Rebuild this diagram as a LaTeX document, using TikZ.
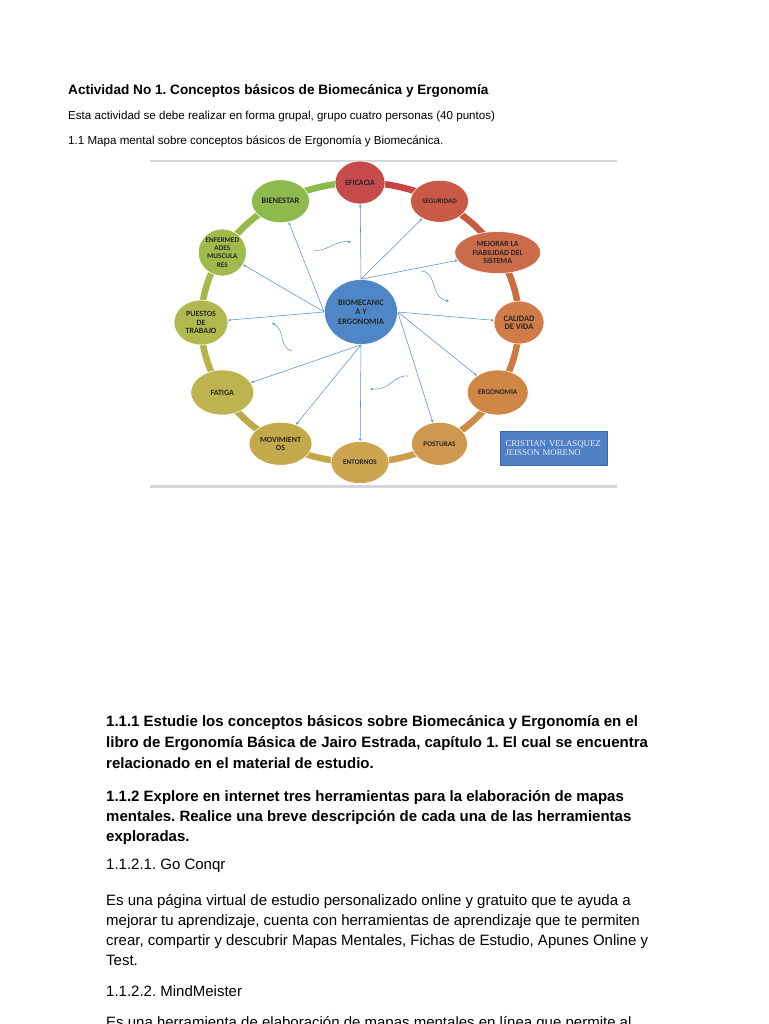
\documentclass[tikz,border=0pt]{standalone}
\usepackage{fontspec}
\setmainfont{Liberation Sans}
\newfontfamily\labelfont{Carlito}
\newfontfamily\namefont{Liberation Serif}
\usetikzlibrary{arrows.meta,shapes.geometric}
\frenchspacing

% colours of the map
\definecolor{linkblue}{HTML}{5B8FD0}
\definecolor{coreblue}{HTML}{4E86C6}
\definecolor{boxblue}{HTML}{4F80C4}
\definecolor{boxedge}{HTML}{3C68A9}
\definecolor{framegray}{HTML}{D6D6DA}

\begin{document}
\begin{tikzpicture}[x=1pt,y=-1pt,
    concept/.style={ellipse, draw=white, line width=0.6pt, inner sep=0pt, align=center,
        text=black!85, font=\labelfont\bfseries},
    core/.style={concept, fill=coreblue, minimum width=73, minimum height=65,
        font=\labelfont\bfseries\fontsize{8.4}{9.6}\selectfont},
    ring/.style={line width=6.5pt},
    link/.style={draw=linkblue, line width=0.55pt, -{Stealth[length=3pt,width=2.6pt]}},
    squiggle/.style={link, line width=0.5pt},
    namebox/.style={rectangle, fill=boxblue, draw=boxedge, line width=0.8pt,
        minimum width=107, minimum height=34, text width=96, align=left, text=white!92!blue,
        font=\namefont\fontsize{8.8}{9.6}\selectfont},
    heading/.style={anchor=base west, inner sep=0pt, font=\bfseries\fontsize{13.6}{16}\selectfont},
    body/.style={anchor=base west, inner sep=0pt, font=\fontsize{11.6}{13}\selectfont},
    task/.style={anchor=base west, inner sep=0pt, font=\bfseries\fontsize{15}{17}\selectfont},
    plain/.style={anchor=base west, inner sep=0pt, font=\fontsize{15}{17}\selectfont}
]
\useasboundingbox[fill=white] (0,0) rectangle (768,1024);

% Heading of the page
\node[heading] (title) at (68,95) {Actividad No 1. Conceptos básicos de Biomecánica y Ergonomía};
\node[body] (intro) at (68,120) {Esta actividad se debe realizar en forma grupal, grupo cuatro personas (40 puntos)};
\node[body] (item) at (68,145) {1.1 Mapa mental sobre conceptos básicos de Ergonomía y Biomecánica.};

% Frame of the picture
\draw[framegray, line width=1.2pt] (150,161) -- (617,161);
\draw[framegray, line width=2.4pt] (150,486.5) -- (617,486.5);

% Ring round the map
\foreach \a/\col in {-90/C9443F, -60/CA5A3E, -30/CC6A40, 0/CE7B42, 30/CF8B45, 60/CE9D4A,
                     90/C6A547, 120/BBAA45, 150/B6B448, 180/A8B848, 210/97B94A, 240/8CB94C} {
    \definecolor{segcol}{HTML}{\col}
    \draw[ring, segcol] ({360+159*cos(\a)},{322.5+140*sin(\a)})
        arc[start angle=\a, end angle=\a+30, x radius=159, y radius=140];
}

% Concepts on the ring
\foreach \a/\nm/\w/\h/\col/\fs/\txt in {
    -90/efi/50/43/C84B4B/8.0/EFICACIA,
    -60/seg/58/42/C85A45/7.0/SEGURIDAD,
    -30/mej/86/42/CC6B4A/7.8/{MEJORAR LA\\FIABILIDAD DEL\\SISTEMA},
    0/cal/50/43/D07C48/8.4/{CALIDAD\\DE VIDA},
    30/erg/61/45/D08746/7.2/ERGONOMIA,
    60/pos/56/43/CF9850/7.2/POSTURAS,
    90/ent/58/42/CDA450/7.2/ENTORNOS,
    120/mov/63/43/C4A94B/7.9/{MOVIMIENT\\OS},
    150/fat/63/45/BEB44F/8.0/FATIGA,
    180/pue/54/45/B1B94E/8.0/{PUESTOS\\DE\\TRABAJO},
    210/enf/48/47/A1BA4C/7.2/{ENFERMED\\ADES\\MUSCULA\\RES},
    240/bie/58/43/8EBA4E/8.4/BIENESTAR} {
    \definecolor{nodecol}{HTML}{\col}
    \node[concept, fill=nodecol, minimum width=\w, minimum height=\h,
          font=\labelfont\bfseries\fontsize{\fs}{8.3}\selectfont]
        (\nm) at ({360+159*cos(\a)},{322.5+140*sin(\a)}) {\txt};
}

% Centre of the map
\node[core] (core) at (361,312) {BIOMECANIC\\A Y\\ERGONOMIA};

% Links from the centre
\foreach \t in {efi,seg,mej} \draw[link] (core.north) -- (\t);
\foreach \t in {cal,erg,pos} \draw[link] (core.east) -- (\t);
\foreach \t in {ent,mov,fat} \draw[link] (core.south) -- (\t);
\foreach \t in {pue,enf,bie} \draw[link] (core.west) -- (\t);

% Small curly arrows
\draw[squiggle] (313,250) .. controls (326,253) and (334,240) .. (351,242);
\draw[squiggle] (421,271) .. controls (438,272) and (430,299) .. (449,301);
\draw[squiggle] (292,351) .. controls (278,347) and (286,330) .. (272,323);
\draw[squiggle] (408,376) .. controls (392,375) and (393,390) .. (370,389);

% Authors
\node[namebox] (authors) at (553.5,448) {CRISTIAN VELASQUEZ\\JEISSON MORENO};

% Tasks below the picture
\node[task] (t1a) at (106,726) {1.1.1 Estudie los conceptos básicos sobre Biomecánica y Ergonomía en el};
\node[task] (t1b) at (106,747) {libro de Ergonomía Básica de Jairo Estrada, capítulo 1. El cual se encuentra};
\node[task] (t1c) at (106,768) {relacionado en el material de estudio.};
\node[task] (t2a) at (106,801) {1.1.2 Explore en internet tres herramientas para la elaboración de mapas};
\node[task] (t2b) at (106,821) {mentales. Realice una breve descripción de cada una de las herramientas};
\node[task] (t2c) at (106,841) {exploradas.};

\node[plain] (g1) at (106,869) {1.1.2.1. Go Conqr};
\node[plain] (g1a) at (106,905) {Es una página virtual de estudio personalizado online y gratuito que te ayuda a};
\node[plain] (g1b) at (106,925) {mejorar tu aprendizaje, cuenta con herramientas de aprendizaje que te permiten};
\node[plain] (g1c) at (106,945) {crear, compartir y descubrir Mapas Mentales, Fichas de Estudio, Apunes Online y};
\node[plain] (g1d) at (106,965) {Test.};
\node[plain] (g2) at (106,996) {1.1.2.2. MindMeister};
\node[plain] (g2a) at (106,1027) {Es una herramienta de elaboración de mapas mentales en línea que permite al};

\end{tikzpicture}
\end{document}
